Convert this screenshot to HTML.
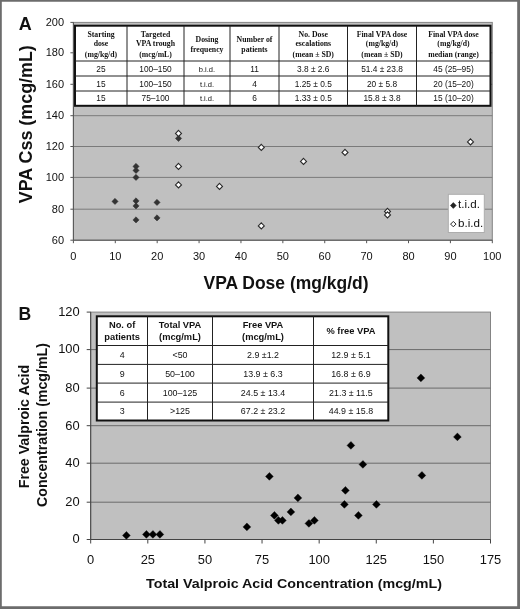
<!DOCTYPE html>
<html><head><meta charset="utf-8"><title>VPA figure</title>
<style>
html,body{margin:0;padding:0;background:#fff;}
svg{display:block;}
text{font-family:"Liberation Sans",Arial,sans-serif;fill:#111;}
.ser{font-family:"Liberation Serif","Times New Roman",serif;font-weight:bold;}
.b{font-weight:bold;}
</style></head><body>
<svg width="520" height="609" viewBox="0 0 520 609">
<rect x="0" y="0" width="520" height="609" fill="#fff"/>
<path d="M0 0H520V609H0ZM1.8 1.8V606.3H517.2V1.8Z" fill="#6c6c6c" fill-rule="evenodd"/>

<rect x="73.4" y="22.4" width="418.9" height="217.79999999999998" fill="#c0c0c0" stroke="#848484" stroke-width="1"/>
<line x1="70.4" y1="22.40" x2="73.4" y2="22.40" stroke="#555" stroke-width="1"/>
<text x="64.10000000000001" y="25.90" font-size="11.0" text-anchor="end">200</text>
<line x1="73.4" y1="52.80" x2="492.3" y2="52.80" stroke="#7a7a7a" stroke-width="1"/>
<line x1="70.4" y1="52.80" x2="73.4" y2="52.80" stroke="#555" stroke-width="1"/>
<text x="64.10000000000001" y="56.30" font-size="11.0" text-anchor="end">180</text>
<line x1="73.4" y1="84.30" x2="492.3" y2="84.30" stroke="#7a7a7a" stroke-width="1"/>
<line x1="70.4" y1="84.30" x2="73.4" y2="84.30" stroke="#555" stroke-width="1"/>
<text x="64.10000000000001" y="87.80" font-size="11.0" text-anchor="end">160</text>
<line x1="73.4" y1="115.70" x2="492.3" y2="115.70" stroke="#7a7a7a" stroke-width="1"/>
<line x1="70.4" y1="115.70" x2="73.4" y2="115.70" stroke="#555" stroke-width="1"/>
<text x="64.10000000000001" y="119.20" font-size="11.0" text-anchor="end">140</text>
<line x1="73.4" y1="146.50" x2="492.3" y2="146.50" stroke="#7a7a7a" stroke-width="1"/>
<line x1="70.4" y1="146.50" x2="73.4" y2="146.50" stroke="#555" stroke-width="1"/>
<text x="64.10000000000001" y="150.00" font-size="11.0" text-anchor="end">120</text>
<line x1="73.4" y1="177.40" x2="492.3" y2="177.40" stroke="#7a7a7a" stroke-width="1"/>
<line x1="70.4" y1="177.40" x2="73.4" y2="177.40" stroke="#555" stroke-width="1"/>
<text x="64.10000000000001" y="180.90" font-size="11.0" text-anchor="end">100</text>
<line x1="73.4" y1="209.20" x2="492.3" y2="209.20" stroke="#7a7a7a" stroke-width="1"/>
<line x1="70.4" y1="209.20" x2="73.4" y2="209.20" stroke="#555" stroke-width="1"/>
<text x="64.10000000000001" y="212.70" font-size="11.0" text-anchor="end">80</text>
<line x1="70.4" y1="240.20" x2="73.4" y2="240.20" stroke="#555" stroke-width="1"/>
<text x="64.10000000000001" y="243.70" font-size="11.0" text-anchor="end">60</text>
<line x1="73.4" y1="22.4" x2="73.4" y2="240.2" stroke="#555" stroke-width="1"/>
<line x1="73.4" y1="240.2" x2="492.3" y2="240.2" stroke="#555" stroke-width="1"/>
<line x1="73.40" y1="240.2" x2="73.40" y2="243.2" stroke="#555" stroke-width="1"/>
<text x="73.40" y="259.70" font-size="11.0" text-anchor="middle">0</text>
<line x1="115.29" y1="240.2" x2="115.29" y2="243.2" stroke="#555" stroke-width="1"/>
<text x="115.29" y="259.70" font-size="11.0" text-anchor="middle">10</text>
<line x1="157.18" y1="240.2" x2="157.18" y2="243.2" stroke="#555" stroke-width="1"/>
<text x="157.18" y="259.70" font-size="11.0" text-anchor="middle">20</text>
<line x1="199.07" y1="240.2" x2="199.07" y2="243.2" stroke="#555" stroke-width="1"/>
<text x="199.07" y="259.70" font-size="11.0" text-anchor="middle">30</text>
<line x1="240.96" y1="240.2" x2="240.96" y2="243.2" stroke="#555" stroke-width="1"/>
<text x="240.96" y="259.70" font-size="11.0" text-anchor="middle">40</text>
<line x1="282.85" y1="240.2" x2="282.85" y2="243.2" stroke="#555" stroke-width="1"/>
<text x="282.85" y="259.70" font-size="11.0" text-anchor="middle">50</text>
<line x1="324.74" y1="240.2" x2="324.74" y2="243.2" stroke="#555" stroke-width="1"/>
<text x="324.74" y="259.70" font-size="11.0" text-anchor="middle">60</text>
<line x1="366.63" y1="240.2" x2="366.63" y2="243.2" stroke="#555" stroke-width="1"/>
<text x="366.63" y="259.70" font-size="11.0" text-anchor="middle">70</text>
<line x1="408.52" y1="240.2" x2="408.52" y2="243.2" stroke="#555" stroke-width="1"/>
<text x="408.52" y="259.70" font-size="11.0" text-anchor="middle">80</text>
<line x1="450.41" y1="240.2" x2="450.41" y2="243.2" stroke="#555" stroke-width="1"/>
<text x="450.41" y="259.70" font-size="11.0" text-anchor="middle">90</text>
<line x1="492.30" y1="240.2" x2="492.30" y2="243.2" stroke="#555" stroke-width="1"/>
<text x="492.30" y="259.70" font-size="11.0" text-anchor="middle">100</text>
<text class="b" x="25.2" y="29.6" font-size="18" text-anchor="middle">A</text>
<text class="b" transform="translate(31.6 124.2) rotate(-90)" font-size="18" text-anchor="middle" textLength="158" lengthAdjust="spacingAndGlyphs">VPA Css (mcg/mL)</text>
<text class="b" x="286" y="288.6" font-size="18" text-anchor="middle" textLength="165" lengthAdjust="spacingAndGlyphs">VPA Dose (mg/kg/d)</text>
<path d="M115 198.3L118.1 201.4L115 204.5L111.9 201.4Z" fill="#333" stroke="#333" stroke-width="0.5"/>
<path d="M136 163.3L139.1 166.4L136 169.5L132.9 166.4Z" fill="#333" stroke="#333" stroke-width="0.5"/>
<path d="M136 167.3L139.1 170.4L136 173.5L132.9 170.4Z" fill="#333" stroke="#333" stroke-width="0.5"/>
<path d="M136 174.3L139.1 177.4L136 180.5L132.9 177.4Z" fill="#333" stroke="#333" stroke-width="0.5"/>
<path d="M136 197.8L139.1 200.9L136 204.0L132.9 200.9Z" fill="#333" stroke="#333" stroke-width="0.5"/>
<path d="M136 202.8L139.1 205.9L136 209.0L132.9 205.9Z" fill="#333" stroke="#333" stroke-width="0.5"/>
<path d="M136 216.8L139.1 219.9L136 223.0L132.9 219.9Z" fill="#333" stroke="#333" stroke-width="0.5"/>
<path d="M157 199.3L160.1 202.4L157 205.5L153.9 202.4Z" fill="#333" stroke="#333" stroke-width="0.5"/>
<path d="M157 214.8L160.1 217.9L157 221.0L153.9 217.9Z" fill="#333" stroke="#333" stroke-width="0.5"/>
<path d="M178.5 135.3L181.6 138.4L178.5 141.5L175.4 138.4Z" fill="#333" stroke="#333" stroke-width="0.5"/>
<path d="M178.5 130.4L181.5 133.4L178.5 136.4L175.5 133.4Z" fill="#fff" stroke="#2a2a2a" stroke-width="1.1"/>
<path d="M178.5 163.4L181.5 166.4L178.5 169.4L175.5 166.4Z" fill="#fff" stroke="#2a2a2a" stroke-width="1.1"/>
<path d="M178.5 181.9L181.5 184.9L178.5 187.9L175.5 184.9Z" fill="#fff" stroke="#2a2a2a" stroke-width="1.1"/>
<path d="M219.5 183.4L222.5 186.4L219.5 189.4L216.5 186.4Z" fill="#fff" stroke="#2a2a2a" stroke-width="1.1"/>
<path d="M261.3 144.4L264.3 147.4L261.3 150.4L258.3 147.4Z" fill="#fff" stroke="#2a2a2a" stroke-width="1.1"/>
<path d="M261.3 222.9L264.3 225.9L261.3 228.9L258.3 225.9Z" fill="#fff" stroke="#2a2a2a" stroke-width="1.1"/>
<path d="M303.5 158.4L306.5 161.4L303.5 164.4L300.5 161.4Z" fill="#fff" stroke="#2a2a2a" stroke-width="1.1"/>
<path d="M345 149.4L348.0 152.4L345 155.4L342.0 152.4Z" fill="#fff" stroke="#2a2a2a" stroke-width="1.1"/>
<path d="M387.5 208.4L390.5 211.4L387.5 214.4L384.5 211.4Z" fill="#fff" stroke="#2a2a2a" stroke-width="1.1"/>
<path d="M387.5 211.9L390.5 214.9L387.5 217.9L384.5 214.9Z" fill="#fff" stroke="#2a2a2a" stroke-width="1.1"/>
<path d="M470.5 138.9L473.5 141.9L470.5 144.9L467.5 141.9Z" fill="#fff" stroke="#2a2a2a" stroke-width="1.1"/>
<rect x="448.3" y="194.3" width="36" height="38.2" fill="#fff" stroke="#adadad" stroke-width="1"/>
<path d="M453.3 202.6L456.2 205.5L453.3 208.4L450.40000000000003 205.5Z" fill="#222" stroke="#222" stroke-width="0.6"/>
<path d="M453.3 221.4L456.0 224.1L453.3 226.79999999999998L450.6 224.1Z" fill="#fff" stroke="#222" stroke-width="1.0"/>
<text x="458.1" y="208.4" font-size="11.6">t.i.d.</text>
<text x="458.1" y="227.0" font-size="11.6">b.i.d.</text>
<rect x="75.0" y="25.7" width="415.5" height="80.1" fill="#fff" stroke="#111" stroke-width="2"/>
<line x1="127.0" y1="25.7" x2="127.0" y2="105.8" stroke="#222" stroke-width="1"/>
<line x1="184.0" y1="25.7" x2="184.0" y2="105.8" stroke="#222" stroke-width="1"/>
<line x1="230.0" y1="25.7" x2="230.0" y2="105.8" stroke="#222" stroke-width="1"/>
<line x1="279.0" y1="25.7" x2="279.0" y2="105.8" stroke="#222" stroke-width="1"/>
<line x1="347.5" y1="25.7" x2="347.5" y2="105.8" stroke="#222" stroke-width="1"/>
<line x1="416.5" y1="25.7" x2="416.5" y2="105.8" stroke="#222" stroke-width="1"/>
<line x1="75.0" y1="61.0" x2="490.5" y2="61.0" stroke="#222" stroke-width="1"/>
<line x1="75.0" y1="76.0" x2="490.5" y2="76.0" stroke="#222" stroke-width="1"/>
<line x1="75.0" y1="91.0" x2="490.5" y2="91.0" stroke="#222" stroke-width="1"/>
<text class="ser" x="101.00" y="36.7" font-size="7.75" text-anchor="middle">Starting</text>
<text class="ser" x="101.00" y="45.9" font-size="7.75" text-anchor="middle">dose</text>
<text class="ser" x="101.00" y="57.1" font-size="7.75" text-anchor="middle">(mg/kg/d)</text>
<text class="ser" x="155.50" y="36.7" font-size="7.75" text-anchor="middle">Targeted</text>
<text class="ser" x="155.50" y="45.9" font-size="7.75" text-anchor="middle">VPA trough</text>
<text class="ser" x="155.50" y="57.1" font-size="7.75" text-anchor="middle">(mcg/mL)</text>
<text class="ser" x="207.00" y="42.2" font-size="7.75" text-anchor="middle">Dosing</text>
<text class="ser" x="207.00" y="51.6" font-size="7.75" text-anchor="middle">frequency</text>
<text class="ser" x="254.50" y="42.2" font-size="7.75" text-anchor="middle">Number of</text>
<text class="ser" x="254.50" y="51.6" font-size="7.75" text-anchor="middle">patients</text>
<text class="ser" x="313.25" y="36.7" font-size="7.75" text-anchor="middle">No. Dose</text>
<text class="ser" x="313.25" y="45.9" font-size="7.75" text-anchor="middle">escalations</text>
<text class="ser" x="313.25" y="57.1" font-size="7.75" text-anchor="middle">(mean ± SD)</text>
<text class="ser" x="382.00" y="36.7" font-size="7.75" text-anchor="middle">Final VPA dose</text>
<text class="ser" x="382.00" y="45.9" font-size="7.75" text-anchor="middle">(mg/kg/d)</text>
<text class="ser" x="382.00" y="57.1" font-size="7.75" text-anchor="middle">(mean ± SD)</text>
<text class="ser" x="453.50" y="36.7" font-size="7.75" text-anchor="middle">Final VPA dose</text>
<text class="ser" x="453.50" y="45.9" font-size="7.75" text-anchor="middle">(mg/kg/d)</text>
<text class="ser" x="453.50" y="57.1" font-size="7.75" text-anchor="middle">median (range)</text>
<text x="101.00" y="71.70" font-size="8.35" text-anchor="middle">25</text>
<text x="155.50" y="71.70" font-size="8.35" text-anchor="middle">100–150</text>
<text x="207.00" y="71.70" font-size="7.5" text-anchor="middle">b.i.d.</text>
<text x="254.50" y="71.70" font-size="8.35" text-anchor="middle">11</text>
<text x="313.25" y="71.70" font-size="8.35" text-anchor="middle">3.8 ± 2.6</text>
<text x="382.00" y="71.70" font-size="8.35" text-anchor="middle">51.4 ± 23.8</text>
<text x="453.50" y="71.70" font-size="8.35" text-anchor="middle">45 (25–95)</text>
<text x="101.00" y="86.60" font-size="8.35" text-anchor="middle">15</text>
<text x="155.50" y="86.60" font-size="8.35" text-anchor="middle">100–150</text>
<text x="207.00" y="86.60" font-size="7.5" text-anchor="middle">t.i.d.</text>
<text x="254.50" y="86.60" font-size="8.35" text-anchor="middle">4</text>
<text x="313.25" y="86.60" font-size="8.35" text-anchor="middle">1.25 ± 0.5</text>
<text x="382.00" y="86.60" font-size="8.35" text-anchor="middle">20 ± 5.8</text>
<text x="453.50" y="86.60" font-size="8.35" text-anchor="middle">20 (15–20)</text>
<text x="101.00" y="101.40" font-size="8.35" text-anchor="middle">15</text>
<text x="155.50" y="101.40" font-size="8.35" text-anchor="middle">75–100</text>
<text x="207.00" y="101.40" font-size="7.5" text-anchor="middle">t.i.d.</text>
<text x="254.50" y="101.40" font-size="8.35" text-anchor="middle">6</text>
<text x="313.25" y="101.40" font-size="8.35" text-anchor="middle">1.33 ± 0.5</text>
<text x="382.00" y="101.40" font-size="8.35" text-anchor="middle">15.8 ± 3.8</text>
<text x="453.50" y="101.40" font-size="8.35" text-anchor="middle">15 (10–20)</text>
<rect x="90.7" y="312.1" width="399.8" height="227.39999999999998" fill="#c0c0c0" stroke="#848484" stroke-width="1"/>
<line x1="86.7" y1="312.10" x2="90.7" y2="312.10" stroke="#444" stroke-width="1"/>
<text x="79.7" y="315.90" font-size="12.9" text-anchor="end">120</text>
<line x1="90.7" y1="349.60" x2="490.5" y2="349.60" stroke="#6a6a6a" stroke-width="1"/>
<line x1="86.7" y1="349.60" x2="90.7" y2="349.60" stroke="#444" stroke-width="1"/>
<text x="79.7" y="353.40" font-size="12.9" text-anchor="end">100</text>
<line x1="90.7" y1="388.10" x2="490.5" y2="388.10" stroke="#6a6a6a" stroke-width="1"/>
<line x1="86.7" y1="388.10" x2="90.7" y2="388.10" stroke="#444" stroke-width="1"/>
<text x="79.7" y="391.90" font-size="12.9" text-anchor="end">80</text>
<line x1="90.7" y1="425.70" x2="490.5" y2="425.70" stroke="#6a6a6a" stroke-width="1"/>
<line x1="86.7" y1="425.70" x2="90.7" y2="425.70" stroke="#444" stroke-width="1"/>
<text x="79.7" y="429.50" font-size="12.9" text-anchor="end">60</text>
<line x1="90.7" y1="463.20" x2="490.5" y2="463.20" stroke="#6a6a6a" stroke-width="1"/>
<line x1="86.7" y1="463.20" x2="90.7" y2="463.20" stroke="#444" stroke-width="1"/>
<text x="79.7" y="467.00" font-size="12.9" text-anchor="end">40</text>
<line x1="90.7" y1="502.20" x2="490.5" y2="502.20" stroke="#6a6a6a" stroke-width="1"/>
<line x1="86.7" y1="502.20" x2="90.7" y2="502.20" stroke="#444" stroke-width="1"/>
<text x="79.7" y="506.00" font-size="12.9" text-anchor="end">20</text>
<line x1="86.7" y1="539.50" x2="90.7" y2="539.50" stroke="#444" stroke-width="1"/>
<text x="79.7" y="543.30" font-size="12.9" text-anchor="end">0</text>
<line x1="90.7" y1="312.1" x2="90.7" y2="539.5" stroke="#444" stroke-width="1"/>
<line x1="90.7" y1="539.5" x2="490.5" y2="539.5" stroke="#444" stroke-width="1"/>
<line x1="90.70" y1="539.5" x2="90.70" y2="543.5" stroke="#444" stroke-width="1"/>
<text x="90.70" y="563.80" font-size="12.9" text-anchor="middle">0</text>
<line x1="147.81" y1="539.5" x2="147.81" y2="543.5" stroke="#444" stroke-width="1"/>
<text x="147.81" y="563.80" font-size="12.9" text-anchor="middle">25</text>
<line x1="204.93" y1="539.5" x2="204.93" y2="543.5" stroke="#444" stroke-width="1"/>
<text x="204.93" y="563.80" font-size="12.9" text-anchor="middle">50</text>
<line x1="262.04" y1="539.5" x2="262.04" y2="543.5" stroke="#444" stroke-width="1"/>
<text x="262.04" y="563.80" font-size="12.9" text-anchor="middle">75</text>
<line x1="319.16" y1="539.5" x2="319.16" y2="543.5" stroke="#444" stroke-width="1"/>
<text x="319.16" y="563.80" font-size="12.9" text-anchor="middle">100</text>
<line x1="376.27" y1="539.5" x2="376.27" y2="543.5" stroke="#444" stroke-width="1"/>
<text x="376.27" y="563.80" font-size="12.9" text-anchor="middle">125</text>
<line x1="433.39" y1="539.5" x2="433.39" y2="543.5" stroke="#444" stroke-width="1"/>
<text x="433.39" y="563.80" font-size="12.9" text-anchor="middle">150</text>
<line x1="490.50" y1="539.5" x2="490.50" y2="543.5" stroke="#444" stroke-width="1"/>
<text x="490.50" y="563.80" font-size="12.9" text-anchor="middle">175</text>
<text class="b" x="24.8" y="319.7" font-size="17.6" text-anchor="middle">B</text>
<text class="b" transform="translate(28.5 488.3) rotate(-90)" font-size="14.1" textLength="123.5" lengthAdjust="spacingAndGlyphs">Free Valproic Acid</text>
<text class="b" transform="translate(46.7 507) rotate(-90)" font-size="14.1" textLength="164" lengthAdjust="spacingAndGlyphs">Concentration (mcg/mL)</text>
<text class="b" x="294" y="588.2" font-size="13.5" text-anchor="middle" textLength="296" lengthAdjust="spacingAndGlyphs">Total Valproic Acid Concentration (mcg/mL)</text>
<path d="M126.4 531.5L130.3 535.4L126.4 539.3L122.5 535.4Z" fill="#000" stroke="#000" stroke-width="0.4"/>
<path d="M146.4 530.5L150.3 534.4L146.4 538.3L142.5 534.4Z" fill="#000" stroke="#000" stroke-width="0.4"/>
<path d="M152.9 530.5L156.8 534.4L152.9 538.3L149.0 534.4Z" fill="#000" stroke="#000" stroke-width="0.4"/>
<path d="M159.9 530.5L163.8 534.4L159.9 538.3L156.0 534.4Z" fill="#000" stroke="#000" stroke-width="0.4"/>
<path d="M246.9 523.0L250.8 526.9L246.9 530.8L243.0 526.9Z" fill="#000" stroke="#000" stroke-width="0.4"/>
<path d="M269.4 472.5L273.29999999999995 476.4L269.4 480.29999999999995L265.5 476.4Z" fill="#000" stroke="#000" stroke-width="0.4"/>
<path d="M274.4 511.5L278.29999999999995 515.4L274.4 519.3L270.5 515.4Z" fill="#000" stroke="#000" stroke-width="0.4"/>
<path d="M278.4 516.5L282.29999999999995 520.4L278.4 524.3L274.5 520.4Z" fill="#000" stroke="#000" stroke-width="0.4"/>
<path d="M282.4 516.5L286.29999999999995 520.4L282.4 524.3L278.5 520.4Z" fill="#000" stroke="#000" stroke-width="0.4"/>
<path d="M290.9 508.0L294.79999999999995 511.9L290.9 515.8L287.0 511.9Z" fill="#000" stroke="#000" stroke-width="0.4"/>
<path d="M297.9 494.0L301.79999999999995 497.9L297.9 501.79999999999995L294.0 497.9Z" fill="#000" stroke="#000" stroke-width="0.4"/>
<path d="M308.9 519.5L312.79999999999995 523.4L308.9 527.3L305.0 523.4Z" fill="#000" stroke="#000" stroke-width="0.4"/>
<path d="M314.4 516.5L318.29999999999995 520.4L314.4 524.3L310.5 520.4Z" fill="#000" stroke="#000" stroke-width="0.4"/>
<path d="M344.4 500.5L348.29999999999995 504.4L344.4 508.29999999999995L340.5 504.4Z" fill="#000" stroke="#000" stroke-width="0.4"/>
<path d="M345.4 486.5L349.29999999999995 490.4L345.4 494.29999999999995L341.5 490.4Z" fill="#000" stroke="#000" stroke-width="0.4"/>
<path d="M350.9 441.5L354.79999999999995 445.4L350.9 449.29999999999995L347.0 445.4Z" fill="#000" stroke="#000" stroke-width="0.4"/>
<path d="M358.4 511.5L362.29999999999995 515.4L358.4 519.3L354.5 515.4Z" fill="#000" stroke="#000" stroke-width="0.4"/>
<path d="M362.9 460.5L366.79999999999995 464.4L362.9 468.29999999999995L359.0 464.4Z" fill="#000" stroke="#000" stroke-width="0.4"/>
<path d="M376.4 500.5L380.29999999999995 504.4L376.4 508.29999999999995L372.5 504.4Z" fill="#000" stroke="#000" stroke-width="0.4"/>
<path d="M421.9 471.5L425.79999999999995 475.4L421.9 479.29999999999995L418.0 475.4Z" fill="#000" stroke="#000" stroke-width="0.4"/>
<path d="M420.9 374.0L424.79999999999995 377.9L420.9 381.79999999999995L417.0 377.9Z" fill="#000" stroke="#000" stroke-width="0.4"/>
<path d="M457.4 433.0L461.29999999999995 436.9L457.4 440.79999999999995L453.5 436.9Z" fill="#000" stroke="#000" stroke-width="0.4"/>
<rect x="96.8" y="316.3" width="291.5" height="104.19999999999999" fill="#fff" stroke="#111" stroke-width="2"/>
<line x1="147.5" y1="316.3" x2="147.5" y2="420.5" stroke="#222" stroke-width="1"/>
<line x1="212.5" y1="316.3" x2="212.5" y2="420.5" stroke="#222" stroke-width="1"/>
<line x1="313.5" y1="316.3" x2="313.5" y2="420.5" stroke="#222" stroke-width="1"/>
<line x1="96.8" y1="345.5" x2="388.3" y2="345.5" stroke="#222" stroke-width="1"/>
<line x1="96.8" y1="364.4" x2="388.3" y2="364.4" stroke="#222" stroke-width="1"/>
<line x1="96.8" y1="383.1" x2="388.3" y2="383.1" stroke="#222" stroke-width="1"/>
<line x1="96.8" y1="402.1" x2="388.3" y2="402.1" stroke="#222" stroke-width="1"/>
<text class="b" x="122.15" y="328.0" font-size="9.3" text-anchor="middle">No. of</text>
<text class="b" x="122.15" y="339.6" font-size="9.3" text-anchor="middle">patients</text>
<text class="b" x="180.00" y="328.0" font-size="9.3" text-anchor="middle">Total VPA</text>
<text class="b" x="180.00" y="339.6" font-size="9.3" text-anchor="middle">(mcg/mL)</text>
<text class="b" x="263.00" y="328.0" font-size="9.3" text-anchor="middle">Free VPA</text>
<text class="b" x="263.00" y="339.6" font-size="9.3" text-anchor="middle">(mcg/mL)</text>
<text class="b" x="350.90" y="333.9" font-size="9.3" text-anchor="middle">% free VPA</text>
<text x="122.15" y="357.95" font-size="8.9" text-anchor="middle">4</text>
<text x="180.00" y="357.95" font-size="8.9" text-anchor="middle">&lt;50</text>
<text x="263.00" y="357.95" font-size="8.9" text-anchor="middle">2.9 ±1.2</text>
<text x="350.90" y="357.95" font-size="8.9" text-anchor="middle">12.9 ± 5.1</text>
<text x="122.15" y="376.75" font-size="8.9" text-anchor="middle">9</text>
<text x="180.00" y="376.75" font-size="8.9" text-anchor="middle">50–100</text>
<text x="263.00" y="376.75" font-size="8.9" text-anchor="middle">13.9 ± 6.3</text>
<text x="350.90" y="376.75" font-size="8.9" text-anchor="middle">16.8 ± 6.9</text>
<text x="122.15" y="395.60" font-size="8.9" text-anchor="middle">6</text>
<text x="180.00" y="395.60" font-size="8.9" text-anchor="middle">100–125</text>
<text x="263.00" y="395.60" font-size="8.9" text-anchor="middle">24.5 ± 13.4</text>
<text x="350.90" y="395.60" font-size="8.9" text-anchor="middle">21.3 ± 11.5</text>
<text x="122.15" y="414.30" font-size="8.9" text-anchor="middle">3</text>
<text x="180.00" y="414.30" font-size="8.9" text-anchor="middle">&gt;125</text>
<text x="263.00" y="414.30" font-size="8.9" text-anchor="middle">67.2 ± 23.2</text>
<text x="350.90" y="414.30" font-size="8.9" text-anchor="middle">44.9 ± 15.8</text>
</svg></body></html>
